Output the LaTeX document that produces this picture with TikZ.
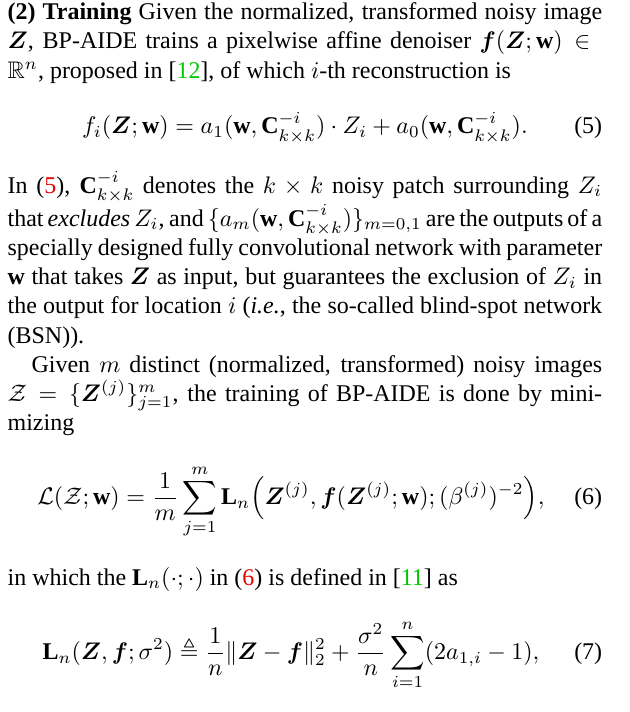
\documentclass[tikz,border=0pt]{standalone}
\usepackage{amsmath,amssymb,bm}
\usepackage{xcolor}
\usepackage{fontspec}
\setmainfont{Liberation Serif}
\definecolor{refred}{RGB}{230,0,0}
\definecolor{refgreen}{RGB}{0,200,0}
\newcommand{\rref}[1]{\textcolor{refred}{#1}}
\newcommand{\gref}[1]{\textcolor{refgreen}{#1}}
\begin{document}
\begin{tikzpicture}
\useasboundingbox (0,0) rectangle (262.4pt,297pt);
\node[anchor=north west,inner sep=0pt] (body) at (3pt,296pt) {\begin{minipage}{248pt}
\fontsize{10}{12.2}\selectfont
\setlength{\parindent}{10pt}
\setlength{\abovedisplayskip}{11pt}\setlength{\belowdisplayskip}{11pt}
\noindent\textbf{(2) Training} Given the normalized, transformed noisy image $\bm{Z}$, BP-AIDE trains a pixelwise affine denoiser $\bm{f}(\bm{Z};\mathbf{w})\in{}$ $\mathbb{R}^n$, proposed in [\gref{12}], of which $i$-th reconstruction is
\begin{equation}\tag{5}
f_i(\bm{Z};\mathbf{w})=a_1(\mathbf{w},\mathbf{C}^{-i}_{k\times k})\cdot Z_i+a_0(\mathbf{w},\mathbf{C}^{-i}_{k\times k}).
\end{equation}
\noindent In (\rref{5}), $\mathbf{C}^{-i}_{k\times k}$ denotes the $k\times k$ noisy patch surrounding $Z_i$ that \emph{excludes} $Z_i$, and $\{a_m(\mathbf{w},\mathbf{C}^{-i}_{k\times k})\}_{m=0,1}$ are the outputs of a specially designed fully convolutional network with parameter $\mathbf{w}$ that takes $\bm{Z}$ as input, but guarantees the ex\-clusion of $Z_i$ in the output for location $i$ (\emph{i.e.}, the so-called blind-spot network (BSN)).

Given $m$ distinct (normalized, transformed) noisy im\-ages $\mathcal{Z}=\{\bm{Z}^{(j)}\}_{j=1}^m$, the training of BP-AIDE is done by minimizing
\begin{equation}\tag{6}
\mathcal{L}(\mathcal{Z};\mathbf{w})=\frac{1}{m}\sum_{j=1}^{m}\mathbf{L}_n\Big(\bm{Z}^{(j)},\bm{f}(\bm{Z}^{(j)};\mathbf{w});(\beta^{(j)})^{-2}\Big),
\end{equation}
\noindent in which the $\mathbf{L}_n(\cdot;\cdot)$ in (\rref{6}) is defined in [\gref{11}] as
\begin{equation}\tag{7}
\mathbf{L}_n(\bm{Z},\bm{f};\sigma^2)\triangleq\frac{1}{n}\|\bm{Z}-\bm{f}\|_2^2+\frac{\sigma^2}{n}\sum_{i=1}^{n}(2a_{1,i}-1),
\end{equation}
\end{minipage}};
\end{tikzpicture}
\end{document}
